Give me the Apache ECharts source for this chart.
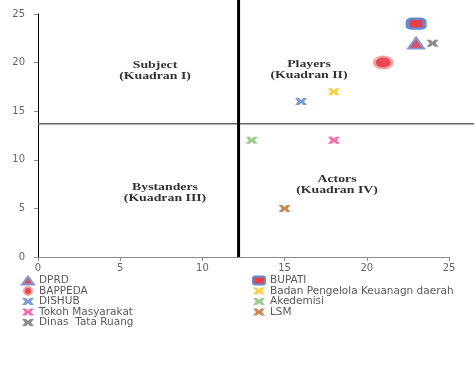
<!DOCTYPE html>
<html><head><meta charset="utf-8">
<script src="https://cdn.jsdelivr.net/npm/echarts@6/dist/echarts.min.js"></script>
<style>html,body{margin:0;padding:0;background:#fff}#c{width:474px;height:375px}</style>
</head><body><div id="c"></div>
<script>
// ---- data ----
const actors = ['DPRD','BUPATI','BAPPEDA','Badan Pengelola Keuanagn daerah','DISHUB','Akedemisi','Tokoh Masyarakat','LSM','Dinas  Tata Ruang'];
const xValues = [23, 23, 21, 18, 16, 13, 18, 15, 24];
const yValues = [22, 24, 20, 17, 16, 12, 12, 5, 22];
const quadrantX = 12.2;
const quadrantY = 13.7;
const xTicks = [0, 5, 10, 15, 20, 25];
const yTicks = [0, 5, 10, 15, 20, 25];
const quadrantLabels = ['Subject\n(Kuadran I)', 'Players\n(Kuadran II)', 'Bystanders\n(Kuadran III)', 'Actors\n(Kuadran IV)'];
const leftLegend = ['DPRD','BAPPEDA','DISHUB','Tokoh Masyarakat','Dinas  Tata Ruang'];
const rightLegend = ['BUPATI','Badan Pengelola Keuanagn daerah','Akedemisi','LSM'];

// ---- styles ----
const xPath = 'path://M0,0 L4,0 L6,2 L8,0 L12,0 L9,3.5 L12,7 L8,7 L6,5 L4,7 L0,7 L3,3.5 Z';
const styles = [
  {symbol:'triangle', size:[16,11], color:'#d9506a', border:'#8498da', bw:2},
  {symbol:'roundRect', size:[17,10], color:'#e8404a', border:'#5b8fd8', bw:3},
  {symbol:'circle', size:[18,12], color:'#e84850', border:'#f2a4a4', bw:2.5},
  {symbol:xPath, size:[12,7], color:'#f7d14a'},
  {symbol:xPath, size:[12,7], color:'#7b9bd6'},
  {symbol:xPath, size:[12,7], color:'#9ccc8c'},
  {symbol:xPath, size:[12,7], color:'#f36cb4'},
  {symbol:xPath, size:[12,7], color:'#c98a55'},
  {symbol:xPath, size:[12,7], color:'#8c8c8c'}
];

const series = actors.map((name, i) => ({
  type: 'scatter',
  name: name,
  data: [[xValues[i], yValues[i]]],
  symbol: styles[i].symbol,
  symbolSize: styles[i].size,
  itemStyle: {color: styles[i].color, borderColor: styles[i].border || styles[i].color, borderWidth: styles[i].bw || 0, opacity: 1},
  emphasis: {disabled: true},
  z: 5
}));

const labelFont = {fontFamily: 'DejaVu Sans', fontSize: 10, color: '#666'};
const legendBase = {
  orient: 'vertical', itemWidth: 12, itemHeight: 8, itemGap: -0.5,
  textStyle: {fontFamily: 'DejaVu Sans', fontSize: 10.5, color: '#595959'},
  selectedMode: false, padding: 0
};

const quadPos = [[155, 60], [309, 59], [165, 182], [337, 174]];
const graphics = quadrantLabels.map((t, i) => ({
  type: 'text', x: quadPos[i][0], y: quadPos[i][1], scaleX: 1.38, z: 10,
  style: {text: t, x: 0, y: 0, align: 'center', verticalAlign: 'top',
    font: 'bold 10px "Liberation Serif"', fill: '#333', lineHeight: 11}
}));

const option = {
  animation: false,
  backgroundColor: '#fff',
  grid: {left: 38, right: 25, top: 14, bottom: 118, containLabel: false},
  xAxis: {
    type: 'value', min: xTicks[0], max: xTicks[xTicks.length-1], interval: 5,
    axisLine: {lineStyle: {color: '#8c8c8c', width: 1}},
    axisTick: {show: true, length: 4, lineStyle: {color: '#8c8c8c'}},
    axisLabel: Object.assign({margin: 6}, labelFont),
    splitLine: {show: false}
  },
  yAxis: {
    type: 'value', min: yTicks[0], max: yTicks[yTicks.length-1], interval: 5,
    axisLine: {show: true, lineStyle: {color: '#000', width: 1}},
    axisTick: {show: true, length: 4, lineStyle: {color: '#8c8c8c'}},
    axisLabel: Object.assign({margin: 13}, labelFont),
    splitLine: {show: false}
  },
  legend: [
    Object.assign({left: 21, top: 275, data: leftLegend}, legendBase),
    Object.assign({left: 252, top: 275, data: rightLegend}, legendBase)
  ],
  graphic: graphics,
  series: series
};

const chart = echarts.init(document.getElementById('c'), null, {renderer: 'canvas'});
chart.setOption(option);

// quadrant dividing lines from data values via axis scales
const pCenter = chart.convertToPixel({gridIndex: 0}, [quadrantX, quadrantY]);
const pOrigin = chart.convertToPixel({gridIndex: 0}, [xTicks[0], yTicks[0]]);
chart.setOption({
  graphic: graphics.concat([
    {type: 'line', z: 4, shape: {x1: pOrigin[0], y1: pCenter[1], x2: 474, y2: pCenter[1]},
      style: {stroke: '#666', lineWidth: 1.5}},
    {type: 'line', z: 4, shape: {x1: pCenter[0], y1: 0, x2: pCenter[0], y2: pOrigin[1]},
      style: {stroke: '#000', lineWidth: 3}}
  ])
});
</script></body></html>
